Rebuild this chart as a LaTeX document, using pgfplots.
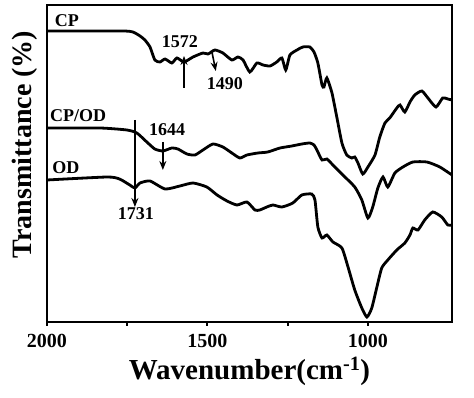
\documentclass[border=0pt]{standalone}
\usepackage{fontspec}
\setmainfont{Liberation Serif}
\usepackage{pgfplots}
\pgfplotsset{compat=1.18}
\usetikzlibrary{arrows.meta}
\begin{document}
\begin{tikzpicture}[x=1pt,y=1pt]
\begin{axis}[
  at={(0pt,0pt)}, anchor=south west,
  scale only axis, width=405pt, height=317pt,
  xmin=738, xmax=2000, x dir=reverse,
  ymin=-322, ymax=-5,
  ytick=\empty,
  xtick={2000,1500,1000},
  minor xtick={1750,1250},
  xtick pos=bottom,
  tick align=outside,
  major tick length=4pt, minor tick length=4pt,
  every tick/.style={line width=2pt, black},
  axis line style={line width=2.6pt},
  /pgf/number format/assume math mode=true,
  /pgf/number format/set thousands separator={},
  tick label style={font=\fontsize{20}{22}\selectfont\bfseries},
  xticklabel style={yshift=-5pt},
  xlabel={Wavenumber(cm\textsuperscript{-1})},
  ylabel={Transmittance (\%)},
  xlabel style={font=\fontsize{29}{31}\selectfont\bfseries, yshift=-2pt},
  ylabel style={font=\fontsize{28}{30}\selectfont\bfseries, yshift=2pt, xshift=19pt},
  clip=false,
]
\addplot[black, line width=2.8pt, smooth, tension=0.35] coordinates {
(2000,-31)(1835,-31)(1757,-31)(1732,-32)(1710,-36)(1695,-40)(1679,-47)(1664,-60)(1648,-62)(1632,-59)(1611,-63)(1595,-58)(1573,-62)(1545,-57)(1514,-53)(1498,-54)(1477,-50)(1452,-53)(1424,-60)(1405,-57)(1389,-60)(1368,-72)(1346,-63)(1327,-65)(1305,-66)(1284,-62)(1268,-58)(1256,-70)(1243,-55)(1221,-50)(1203,-47)(1181,-47)(1168,-52)(1156,-63)(1143,-85)(1137,-87)(1128,-78)(1112,-93)(1097,-117)(1081,-143)(1066,-155)(1050,-158)(1041,-157)(1031,-163)(1016,-174)(1000,-167)(978,-155)(963,-137)(947,-123)(932,-118)(910,-108)(900,-105)(885,-112)(869,-102)(854,-95)(832,-91)(813,-98)(788,-107)(767,-98)(751,-99)(738,-100)
};
\addplot[black, line width=2.8pt, smooth, tension=0.35] coordinates {
(2000,-128)(1835,-128)(1751,-130)(1720,-133)(1689,-142)(1664,-149)(1639,-151)(1611,-148)(1592,-149)(1564,-154)(1539,-155)(1514,-150)(1483,-144)(1452,-147)(1424,-153)(1399,-158)(1377,-155)(1343,-153)(1312,-152)(1274,-148)(1237,-146)(1206,-144)(1181,-143)(1168,-145)(1159,-150)(1143,-160)(1128,-159)(1109,-165)(1078,-175)(1041,-187)(1019,-200)(1000,-218)(985,-207)(969,-188)(953,-177)(938,-187)(916,-173)(891,-167)(860,-162)(816,-162)(776,-167)(738,-175)
};
\addplot[black, line width=2.8pt, smooth, tension=0.35] coordinates {
(2000,-180)(1813,-177)(1774,-179)(1742,-185)(1726,-188)(1710,-183)(1679,-181)(1632,-189)(1586,-186)(1545,-183)(1502,-187)(1470,-195)(1439,-201)(1408,-205)(1377,-202)(1352,-210)(1337,-210)(1315,-207)(1296,-205)(1268,-207)(1234,-203)(1206,-195)(1175,-194)(1165,-200)(1156,-227)(1143,-238)(1128,-235)(1109,-242)(1081,-248)(1062,-267)(1041,-290)(1019,-308)(1003,-317)(988,-308)(972,-287)(957,-268)(938,-260)(910,-250)(885,-243)(869,-235)(860,-228)(844,-230)(823,-220)(798,-212)(770,-217)(751,-225)(738,-225)
};
\tikzset{lab/.style={font=\fontsize{18}{20}\selectfont\bfseries, inner sep=0pt}}
\node[lab] at (axis cs:1938,-21) {CP};
\node[lab] at (axis cs:1903,-116) {CP/OD};
\node[lab] at (axis cs:1941,-168) {OD};
\node[lab] at (axis cs:1586,-42) {1572};
\node[lab] at (axis cs:1446,-84) {1490};
\node[lab] at (axis cs:1626,-130) {1644};
\node[lab] at (axis cs:1723,-214) {1731};
\draw[line width=1.6pt, -{Stealth[length=9pt,width=7pt]}] (axis cs:1573,-88) -- (axis cs:1573,-56);
\draw[line width=1.6pt, -{Stealth[length=9pt,width=7pt]}] (axis cs:1486,-52) -- (axis cs:1474,-71);
\draw[line width=1.6pt, -{Stealth[length=9pt,width=7pt]}] (axis cs:1639,-142) -- (axis cs:1639,-170);
\draw[line width=1.6pt, -{Stealth[length=9pt,width=7pt]}] (axis cs:1726,-120) -- (axis cs:1726,-207);
\end{axis}
\path[use as bounding box] (-47pt,-76pt) rectangle (427pt,322pt);
\end{tikzpicture}
\end{document}
